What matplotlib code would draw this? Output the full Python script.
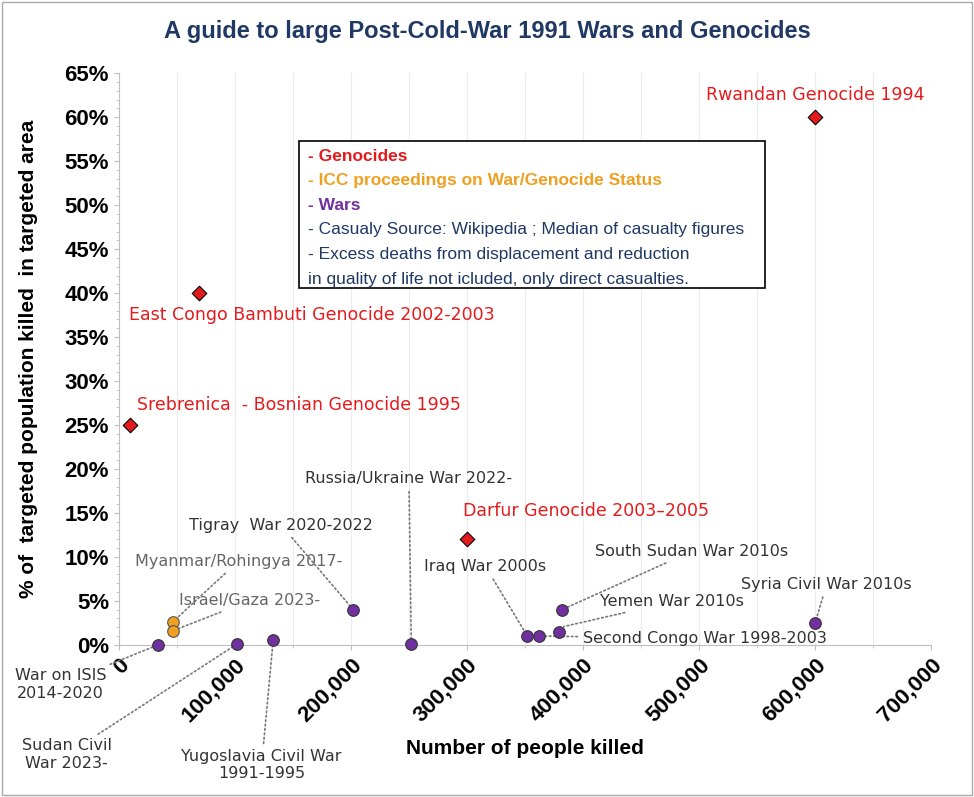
import matplotlib
matplotlib.use("Agg")
import matplotlib.pyplot as plt
from matplotlib.ticker import FuncFormatter, MultipleLocator

plt.rcParams['font.family'] = ['Liberation Sans', 'DejaVu Sans']

gen_names = ["Rwandan Genocide 1994", "East Congo Bambuti Genocide 2002-2003",
             "Srebrenica  - Bosnian Genocide 1995", "Darfur Genocide 2003–2005"]
gen_x = [600000, 69000, 10000, 300000]
gen_y = [60, 40, 25, 12]

icc_x = [46500, 46500]
icc_y = [2.6, 1.6]

war_x = [34000, 102000, 133000, 202000, 252000, 352000, 362000, 379000, 382000, 600000]
war_y = [0.0, 0.1, 0.5, 4.0, 0.1, 1.0, 1.0, 1.5, 4.0, 2.5]

fig = plt.figure(figsize=(9.74, 7.97), dpi=100)
ax = fig.add_axes([0.122, 0.191, 0.834, 0.717])
ax.set_xlim(0, 700000)
ax.set_ylim(0, 65)
ax.xaxis.set_major_locator(MultipleLocator(100000))
ax.xaxis.set_minor_locator(MultipleLocator(50000))
ax.yaxis.set_major_locator(MultipleLocator(5))
ax.yaxis.set_minor_locator(MultipleLocator(1))
ax.xaxis.set_major_formatter(FuncFormatter(lambda v, p: f"{int(v):,}"))
ax.yaxis.set_major_formatter(FuncFormatter(lambda v, p: f"{int(v)}%"))
ax.grid(axis="x", which="both", color="#ececec", lw=0.8)
for s in ["top", "right"]:
    ax.spines[s].set_visible(False)
for s in ["left", "bottom"]:
    ax.spines[s].set_color("#bfbfbf")
ax.tick_params(which="both", color="#bfbfbf")
for lab in ax.get_xticklabels():
    lab.set_rotation(45); lab.set_fontweight("bold"); lab.set_fontsize(16)
    lab.set_ha("right"); lab.set_rotation_mode("anchor")
for lab in ax.get_yticklabels():
    lab.set_fontweight("bold"); lab.set_fontsize(16)

ax.scatter(gen_x, gen_y, marker="D", s=55, c="#e41a1c", edgecolors="black", lw=0.8, zorder=5, clip_on=False)
ax.scatter(icc_x, icc_y, marker="o", s=70, c="#f0a020", edgecolors="#555", lw=0.8, zorder=5)
ax.scatter(war_x, war_y, marker="o", s=70, c="#7030a0", edgecolors="#333", lw=0.8, zorder=5, clip_on=False)

red = "#e41a1c"
gfont = dict(family=['DejaVu Sans'], fontsize=12.5, color=red)
ax.text(600000, 61.5, gen_names[0], ha="center", va="bottom", **gfont)
ax.text(9000, 37.5, gen_names[1], ha="left", va="center", **gfont)
ax.text(16000, 27.3, gen_names[2], ha="left", va="center", **gfont)
ax.text(297000, 15.2, gen_names[3], ha="left", va="center", **gfont)

arr = dict(arrowstyle="-", ls=":", color="#777", lw=1.2)
def lab(t, xy, xyt, ha="center", col="#333"):
    ax.annotate(t, xy=xy, xytext=xyt, textcoords="data", ha=ha, va="center",
                fontsize=11.5, color=col, arrowprops=arr, annotation_clip=False,
                family=['DejaVu Sans'])

lab("Myanmar/Rohingya 2017-", (46500, 2.6), (103000, 9.5), col="#666")
lab("Israel/Gaza 2023-", (46500, 1.6), (113000, 5.0), col="#666")
lab("Tigray  War 2020-2022", (202000, 4.0), (140000, 13.6))
lab("Russia/Ukraine War 2022-", (252000, 0.1), (250000, 18.9))
lab("Iraq War 2000s", (352000, 1.0), (316000, 8.9))
lab("South Sudan War 2010s", (382000, 4.0), (410000, 10.6), ha="left")
lab("Yemen War 2010s", (381000, 2.0), (415000, 4.9), ha="left")
lab("Second Congo War 1998-2003", (364000, 1.0), (400000, 0.7), ha="left")
lab("Syria Civil War 2010s", (600000, 2.5), (610000, 6.9))
lab("War on ISIS\n2014-2020", (34000, 0.0), (-50000, -4.5))
lab("Sudan Civil\nWar 2023-", (102000, 0.1), (-45000, -12.5))
lab("Yugoslavia Civil War\n1991-1995", (133000, 0.5), (123000, -13.7))

ax.add_patch(plt.Rectangle((0.222, 0.624), 0.574, 0.258, transform=ax.transAxes,
                           fill=True, fc="white", ec="black", lw=1.2, zorder=6))
lines = [("Genocides", red), ("ICC proceedings on War/Genocide Status", "#f0a020"),
         ("Wars", "#7030a0")]
yy = 0.855
for t, c in lines:
    ax.text(0.233, yy, "- " + t, transform=ax.transAxes, color=c, fontsize=12.5,
            fontweight="bold", va="center", zorder=7)
    yy -= 0.043
for t in ["- Casualy Source: Wikipedia ; Median of casualty figures",
          "- Excess deaths from displacement and reduction",
          "in quality of life not icluded, only direct casualties."]:
    ax.text(0.233, yy, t, transform=ax.transAxes, color="#1f3864", fontsize=12.5, va="center", zorder=7)
    yy -= 0.043

ax.set_xlabel("Number of people killed", fontsize=15, fontweight="bold")
ax.xaxis.set_label_coords(0.5, -0.165)
ax.set_ylabel("% of  targeted population killed  in targeted area", fontsize=15, fontweight="bold")
ax.yaxis.set_label_coords(-0.1, 0.5)
fig.text(0.5, 0.96, "A guide to large Post-Cold-War 1991 Wars and Genocides", ha="center",
         va="center", fontsize=17, fontweight="bold", color="#1f3864")
fig.patches.append(plt.Rectangle((0.002, 0.002), 0.996, 0.996, transform=fig.transFigure,
                                 fill=False, ec="#aaaaaa", lw=1))
fig.savefig("out.png", dpi=100)
